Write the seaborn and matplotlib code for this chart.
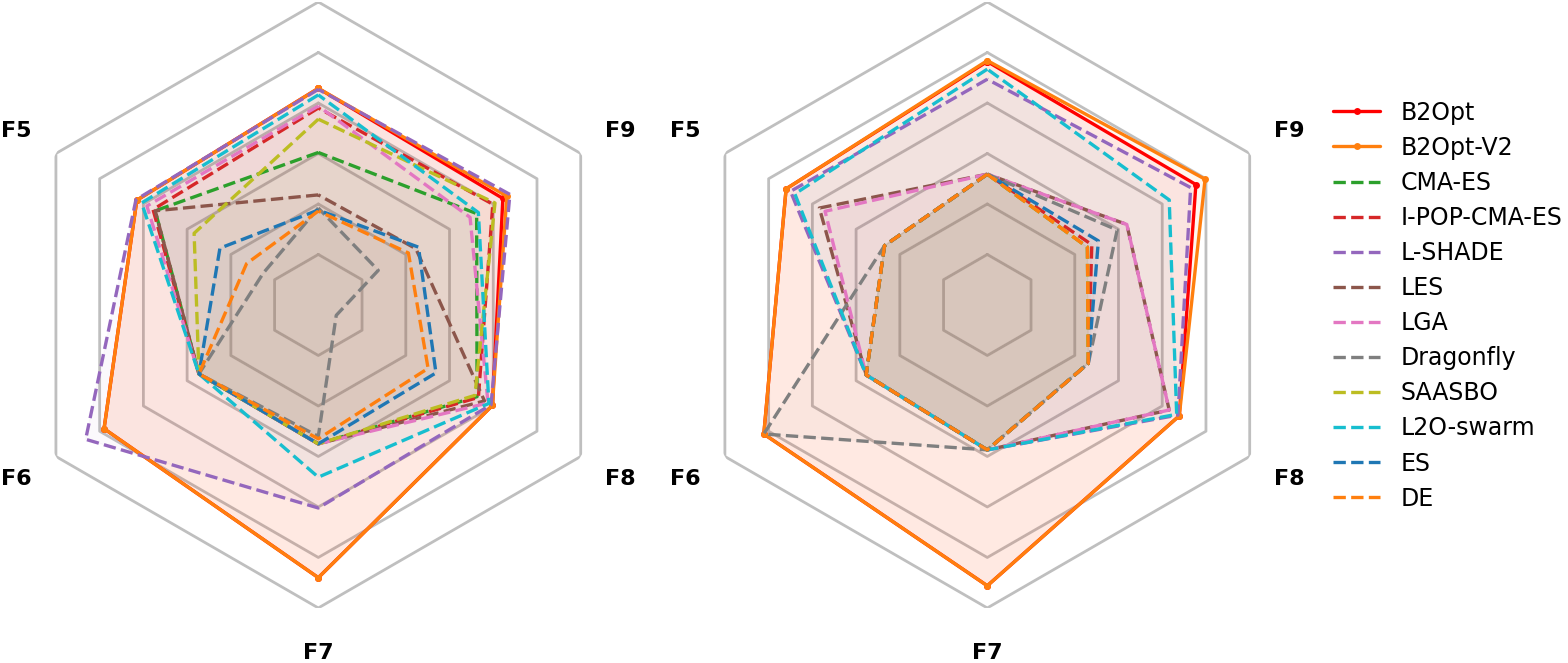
import numpy as np
import pandas as pd
import matplotlib
matplotlib.use('Agg')
import matplotlib.pyplot as plt
import seaborn as sns

# 雷达图：左右两组 F4-F9 指标（顶部 F4 标签在原图中被裁掉，不显示）
axis_labels = ['', 'F5', 'F6', 'F7', 'F8', 'F9']
methods = ['B2Opt', 'B2Opt-V2', 'CMA-ES', 'I-POP-CMA-ES', 'L-SHADE', 'LES',
           'LGA', 'Dragonfly', 'SAASBO', 'L2O-swarm', 'ES', 'DE']
colors = ['red', '#ff7f0e', '#2ca02c', '#d62728', '#9467bd', '#8c564b',
          '#e377c2', '#7f7f7f', '#bcbd22', '#17becf', '#1f77b4', '#ff7f0e']

# 左图数据（顺序 F4, F5, F6, F7, F8, F9）
left_b2opt = [4.29, 4.15, 4.90, 5.40, 3.98, 4.22]
left_b2opt_v2 = [4.29, 4.15, 4.90, 5.40, 3.98, 4.31]
left_cmaes = [3.02, 3.73, 2.73, 2.75, 3.63, 3.62]
left_ipop = [3.90, 3.78, 2.73, 2.75, 3.66, 3.99]
left_lshade = [4.27, 4.17, 5.32, 4.02, 3.95, 4.38]
left_les = [2.18, 3.73, 2.73, 2.75, 3.80, 2.23]
left_lga = [3.94, 3.92, 2.73, 2.75, 3.88, 3.47]
left_dragonfly = [1.92, 1.26, 2.73, 2.60, 0.41, 1.37]
left_saasbo = [3.68, 2.84, 2.73, 2.75, 3.58, 4.04]
left_l2o = [4.16, 4.04, 2.73, 3.41, 3.90, 3.66]
left_es = [1.88, 2.25, 2.73, 2.75, 2.69, 2.29]
left_de = [1.86, 1.64, 2.73, 2.65, 2.51, 2.06]

# 右图数据
right_b2opt = [4.82, 4.60, 5.11, 5.56, 4.39, 4.77]
right_b2opt_v2 = [4.84, 4.60, 5.11, 5.56, 4.39, 4.98]
right_cmaes = [2.59, 2.35, 2.77, 2.87, 2.31, 2.29]
right_ipop = [2.59, 2.35, 2.77, 2.87, 2.31, 2.39]
right_lshade = [4.47, 4.50, 2.77, 2.87, 4.36, 4.65]
right_les = [2.59, 3.84, 2.77, 2.87, 4.16, 3.19]
right_lga = [2.59, 3.71, 2.77, 2.87, 4.16, 3.19]
right_dragonfly = [2.59, 2.35, 5.11, 2.87, 2.31, 2.97]
right_saasbo = [2.59, 2.35, 2.77, 2.87, 2.31, 2.29]
right_l2o = [4.67, 4.40, 2.77, 2.87, 4.33, 4.16]
right_es = [2.59, 2.35, 2.77, 2.87, 2.31, 2.54]
right_de = [2.59, 2.35, 2.77, 2.87, 2.31, 2.29]

left_data = [left_b2opt, left_b2opt_v2, left_cmaes, left_ipop, left_lshade, left_les,
             left_lga, left_dragonfly, left_saasbo, left_l2o, left_es, left_de]
right_data = [right_b2opt, right_b2opt_v2, right_cmaes, right_ipop, right_lshade, right_les,
              right_lga, right_dragonfly, right_saasbo, right_l2o, right_es, right_de]

grid_levels = [0, 1, 2, 3, 4, 5, 6]
r_max = 6

sns.set_theme(style='white')
plt.rcParams['font.family'] = ['DejaVu Sans']
plt.rcParams['text.color'] = 'black'

n = len(axis_labels)
angles = np.linspace(0, 2 * np.pi, n, endpoint=False)
angles_closed = np.append(angles, angles[0] + 2 * np.pi)


def draw_radar(ax, data):
    ax.set_theta_offset(np.pi / 2)
    ax.set_ylim(0, r_max)
    ax.set_xticks([])
    ax.set_yticks([])
    ax.grid(False)
    ax.spines['polar'].set_visible(False)

    # 六边形网格
    for lv in grid_levels:
        ax.plot(angles_closed, [lv] * (n + 1), color='#bfbfbf', lw=2, zorder=0)

    for name, color, vals in zip(methods, colors, data):
        vals_closed = vals + vals[:1]
        df = pd.DataFrame({'theta': angles_closed, 'r': vals_closed})
        solid = name.startswith('B2Opt')
        sns.lineplot(data=df, x='theta', y='r', ax=ax, sort=False, color=color,
                     linestyle='-' if solid else '--', lw=2.4,
                     marker='o' if solid else None, markersize=5,
                     markeredgewidth=0, label=name, zorder=3)
        # 本文方法填充更明显
        ax.fill(angles_closed, vals_closed, color=color,
                alpha=0.06 if solid else 0.035, zorder=1)

    ax.set_xlabel('')
    ax.set_ylabel('')
    if ax.get_legend() is not None:
        ax.get_legend().remove()

    for ang, lab in zip(angles, axis_labels):
        if lab:
            ax.text(ang, 6.9, lab, ha='center', va='center', fontsize=16,
                    fontweight='bold', color='black', clip_on=False)


fig = plt.figure(figsize=(15.68, 6.63), dpi=100)
ax1 = fig.add_axes([0.00976, 0.083, 0.3865, 0.914], projection='polar')
ax2 = fig.add_axes([0.4364, 0.083, 0.3865, 0.914], projection='polar')
draw_radar(ax1, left_data)
draw_radar(ax2, right_data)

handles, labels = ax1.get_legend_handles_labels()
handles = handles[-len(methods):]
labels = labels[-len(methods):]
fig.legend(handles, labels, loc='center left', bbox_to_anchor=(0.8366, 0.539),
           frameon=False, fontsize=17, handlelength=2.0, handletextpad=0.85,
           labelspacing=0.47, labelcolor='black')

fig.savefig('out.png', dpi=100)
plt.close()
